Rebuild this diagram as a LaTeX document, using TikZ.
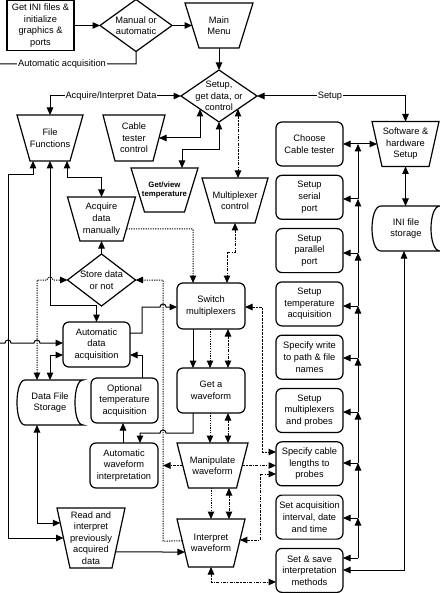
\documentclass[tikz,border=0pt]{standalone}
\usepackage{fontspec}
\setmainfont{Liberation Sans}
\usetikzlibrary{arrows.meta,shapes.geometric,calc}
\newcommand\myfs{\fontsize{9.3}{11.6}\selectfont}
\newcommand\mytrap[2]{\draw[outl] (#1.north west) -- (#1.north east) -- ([xshift=-#2pt]#1.south east) -- ([xshift=#2pt]#1.south west) -- cycle;}
\newcommand\mystore[2]{\draw[outl] ([xshift=#2pt]#1.north west) -- (#1.north east) .. controls ([xshift={-1.333*#2pt}]#1.north east) and ([xshift={-1.333*#2pt}]#1.south east) .. (#1.south east) -- ([xshift=#2pt]#1.south west) .. controls ([xshift={-0.333*#2pt}]#1.south west) and ([xshift={-0.333*#2pt}]#1.north west) .. ([xshift=#2pt]#1.north west) -- cycle;}
\begin{document}
\begin{tikzpicture}[x=1pt,y=-1pt,
  >={Triangle[length=7.5pt,width=6.5pt]},
  conn/.style={line width=1pt},
  dotl/.style={conn,dash pattern=on 1.2pt off 1.2pt},
  dashl/.style={conn,dash pattern=on 2.5pt off 1pt},
  ddl/.style={conn,dash pattern=on 3pt off 1.2pt on 1.2pt off 1.2pt},
  outl/.style={line width=1.2pt},
  txt/.style={font=\myfs,align=center,inner sep=0pt,outer sep=0pt},
  rbox/.style={txt,draw,outl,rounded corners=6pt,minimum width=67pt,minimum height=44pt},
  dia/.style={draw,outl,diamond,inner sep=0pt,outer sep=0pt},
  lbl/.style={font=\myfs,fill=white,inner sep=1pt}]
\useasboundingbox (0,0) rectangle (439,593);
\fill[white] (0,0) rectangle (439,593);

% ---------- shapes ----------
\node[txt,draw,outl,minimum width=67pt,minimum height=50pt] (init) at (40.5,25.5) {Get INI files \&\\initialize\\graphics \&\\ports};
\node[dia,minimum width=72pt,minimum height=52pt] (ma) at (136,25.5) {};
\node[txt] (mat) at (ma) {Manual or\\automatic};
\node[txt,minimum width=68pt,minimum height=45pt] (mm) at (219,25.5) {Main\\Menu};
\mytrap{mm}{14}
\node[dia,minimum width=76pt,minimum height=52pt] (sd) at (219,96) {};
\node[txt] (sdt) at (sd) {Setup,\\get data, or\\control};
\node[txt,minimum width=66pt,minimum height=46pt] (ff) at (50,138) {File\\Functions};
\mytrap{ff}{13}
\node[txt,minimum width=62pt,minimum height=46pt] (ctc) at (134,138) {Cable\\tester\\control};
\mytrap{ctc}{12}
\node[txt,minimum width=67pt,minimum height=44pt,font=\fontsize{7.8}{9.5}\selectfont\bfseries] (gv) at (164.5,190) {Get/view\\temperature};
\mytrap{gv}{13.5}
\node[txt,minimum width=66pt,minimum height=45pt] (mc) at (235,200.5) {Multiplexer\\control};
\mytrap{mc}{13}
\node[txt,minimum width=68pt,minimum height=44pt] (am) at (101.5,219) {Acquire\\data\\manually};
\mytrap{am}{12.5}
\node[dia,minimum width=68pt,minimum height=52pt] (sto) at (101.5,280) {};
\node[txt] (stot) at (sto) {Store data\\or not};
\node[rbox,minimum height=45pt] (aa) at (96.5,344.5) {Automatic\\data\\acquisition};
\node[txt,minimum width=66pt,minimum height=45pt] (dfs) at (50,402.5) {Data File\\Storage};
\mystore{dfs}{8}
\node[rbox,minimum height=45pt] (ot) at (124.5,400.5) {Optional\\temperature\\acquisition};
\node[rbox,minimum width=68pt,minimum height=45pt] (aw) at (124,465.5) {Automatic\\waveform\\interpretation};
\node[txt,minimum width=68pt,minimum height=60pt] (rd) at (91,538) {Read and\\interpret\\previously\\acquired\\data};
\mytrap{rd}{13}
\node[rbox,minimum width=68pt,minimum height=46pt] (smx) at (211,306) {Switch\\multiplexers};
\node[rbox,minimum width=68pt,minimum height=45pt] (gw) at (211,390.5) {Get a\\waveform};
\node[txt,minimum width=71pt,minimum height=45pt] (mw) at (212.5,465.5) {Manipulate\\waveform};
\mytrap{mw}{11.5}
\node[txt,minimum width=68pt,minimum height=48pt] (ip) at (211,543) {Interpret\\waveform};
\mytrap{ip}{11.5}
\node[txt,minimum width=67pt,minimum height=45pt] (sw) at (405.5,144) {Software \&\\hardware\\Setup};
\mytrap{sw}{10}
\node[txt,minimum width=68pt,minimum height=45pt] (ini) at (406,228.5) {INI file\\storage};
\mystore{ini}{9}

\node[rbox] (r0) at (309.5,144) {Choose\\Cable tester};
\node[rbox] (r1) at (309.5,197.3) {Setup\\serial\\port};
\node[rbox] (r2) at (309.5,250.6) {Setup\\parallel\\port};
\node[rbox] (r3) at (309.5,303.9) {Setup\\temperature\\acquisition};
\node[rbox] (r4) at (309.5,357.2) {Specify write\\to path \& file\\names};
\node[rbox] (r5) at (309.5,410.5) {Setup\\multiplexers\\and probes};
\node[rbox] (r6) at (309.5,463.8) {Specify cable\\lengths to\\probes};
\node[rbox] (r7) at (309.5,517.1) {Set acquisition\\interval, date\\and time};
\node[rbox] (r8) at (309.5,570.4) {Set \& save\\interpretation\\methods};

% ---------- connectors ----------
\draw[conn,->] (init) -- (ma);
\draw[conn,->] (ma) -- ($(mm.north west)!0.5!([xshift=14pt]mm.south west)$);
\draw[conn,->] (mm.south) -- (sd);
\draw[conn,->] (ma.south) -- (136,64) -- (-3,64) -- (-3,343) -- (5,343) .. controls (5,339) and (11,339) .. (11,343) -- (34,343) .. controls (34,339) and (40,339) .. (40,343) -- (aa.west |- 0,343);
\node[lbl] (l1) at (62,64) {Automatic acquisition};
\draw[conn,<->] (ff.north) -- (50,96) -- (sd.west);
\node[lbl] (l2) at (111,96) {Acquire/Interpret Data};
\draw[conn,<->] (sd.east) -- (405.5,96) -- (sw.north);
\node[lbl] (l3) at (330,96) {Setup};
\draw[conn,<->] (sd.south west) -- (sd.south west |- 0,138) -- ($(ctc.north east)!0.5!([xshift=-12pt]ctc.south east)$);
\draw[conn,<->] (sd.south) -- (219,150) -- (182,150) -- (gv.north -| 182,0);
\draw[ddl,<->] (sd.south east) -- (sd.south east |- mc.north);

\draw[conn,<->] (ff.south -| 33,0) -- (33,175) -- (8,175) -- (8,538) -- ($(rd.north west)!0.5!([xshift=13pt]rd.south west)$);
\draw[conn,<->] (ff.south) -- (50,305) -| (aa.north);
\draw[conn,<->] (ff.south -| 67,0) -- (67,178) -| (am.north);
\draw[dotl,->] ($(am.north east)!0.727!([xshift=-12.5pt]am.south east)$) -- (193,229) -- (smx.north -| 193,0);
\draw[ddl,<->] (mc.south) -- (235,252) -- (227,252) -- (smx.north -| 227,0);
\draw[conn,->] (sto.north) -- (am.south);
\draw[dotl,<->] (dfs.north -| 37,0) -- (37,280) -- (47,280) .. controls (47,276) and (53,276) .. (53,280) -- (sto.west);
\draw[dotl,->] ($(ip.north west)!0.458!([xshift=11.5pt]ip.south west)$) -- (163,541) -- (163,280) -- (sto.east);
\draw[conn,->] (aa.east |- 0,333) -- (142,333) -- (142,307) -- (160,307) .. controls (160,303) and (166,303) .. (166,307) -- (smx.west |- 0,307);
\draw[conn,->] (ot.north -| 142,0) -- (142,355) -- (aa.east |- 0,355);
\draw[conn,<->] (aa.west |- 0,355) -- (50,355) -- (dfs.north);
\draw[conn,->] (aw.north -| 123,0) -- (ot.south -| 123,0);
\draw[conn,->] (gw.south -| 193,0) -- (193,433) -- (166,433) .. controls (166,429) and (160,429) .. (160,433) -- (140,433) -- (aw.north -| 140,0);
\draw[conn,<->] ($(rd.north west)!0.25!([xshift=13pt]rd.south west)$) -- (37,523) -- (dfs.south -| 37,0);
\draw[conn,->] ($(rd.north east)!0.733!([xshift=-13pt]rd.south east)$) -- ($(ip.north west)!0.6875!([xshift=11.5pt]ip.south west)$);

\draw[conn,->] (smx.south -| 193,0) -- (gw.north -| 193,0);
\draw[dotl,->] (smx.south -| 210,0) -- (gw.north -| 210,0);
\draw[ddl,<->] (smx.south -| 228,0) -- (gw.north -| 228,0);
\draw[dotl,->] (gw.south -| 210,0) -- (mw.north -| 210,0);
\draw[ddl,<->] (gw.south -| 228,0) -- (mw.north -| 228,0);
\draw[dotl,->] (mw.south -| 211,0) -- (ip.north -| 211,0);
\draw[ddl,<->] (mw.south -| 229,0) -- (ip.north -| 229,0);
\draw[ddl,->] ($(mw.north west)!0.5!([xshift=11.5pt]mw.south west)$) -- (163,465.5);
\draw[ddl,->] ($(mw.north east)!0.5!([xshift=-11.5pt]mw.south east)$) -- (r6.west |- 0,465.5);
\draw[ddl,<->] ($(ip.north east)!0.4375!([xshift=-11.5pt]ip.south east)$) -- (260,540) -- (260,474) -- (r6.west |- 0,474);
\draw[dashl,<->] (smx.east |- 0,307) -- (262,307) -- (262,452) -- (r6.west |- 0,452);
\draw[ddl,<->] (ip.south) -- (211,582) -- (r8.west |- 0,582);

\draw[conn,<->] ($(sw.north west)!0.5!([xshift=10pt]sw.south west)$) -- (r0.east);
\draw[conn,<->] (sw.south) -- (sw.south |- ini.north);
\draw[conn,<->] (ini.south -| 404,0) -- (404,570) -- (r8.east |- 0,570);
\foreach \ya/\yb in {558/518,518/463,463/412,412/358,358/306,306/253,253/199,199/144}
  \draw[conn,->] (358,\ya) -- (358,\yb);
\foreach \y/\n in {199/1,253/2,306/3,358/4,412/5,463/6,518/7,558/8}
  \draw[conn,->] (358,\y) -- (r\n.east |- 0,\y);
\end{tikzpicture}
\end{document}
